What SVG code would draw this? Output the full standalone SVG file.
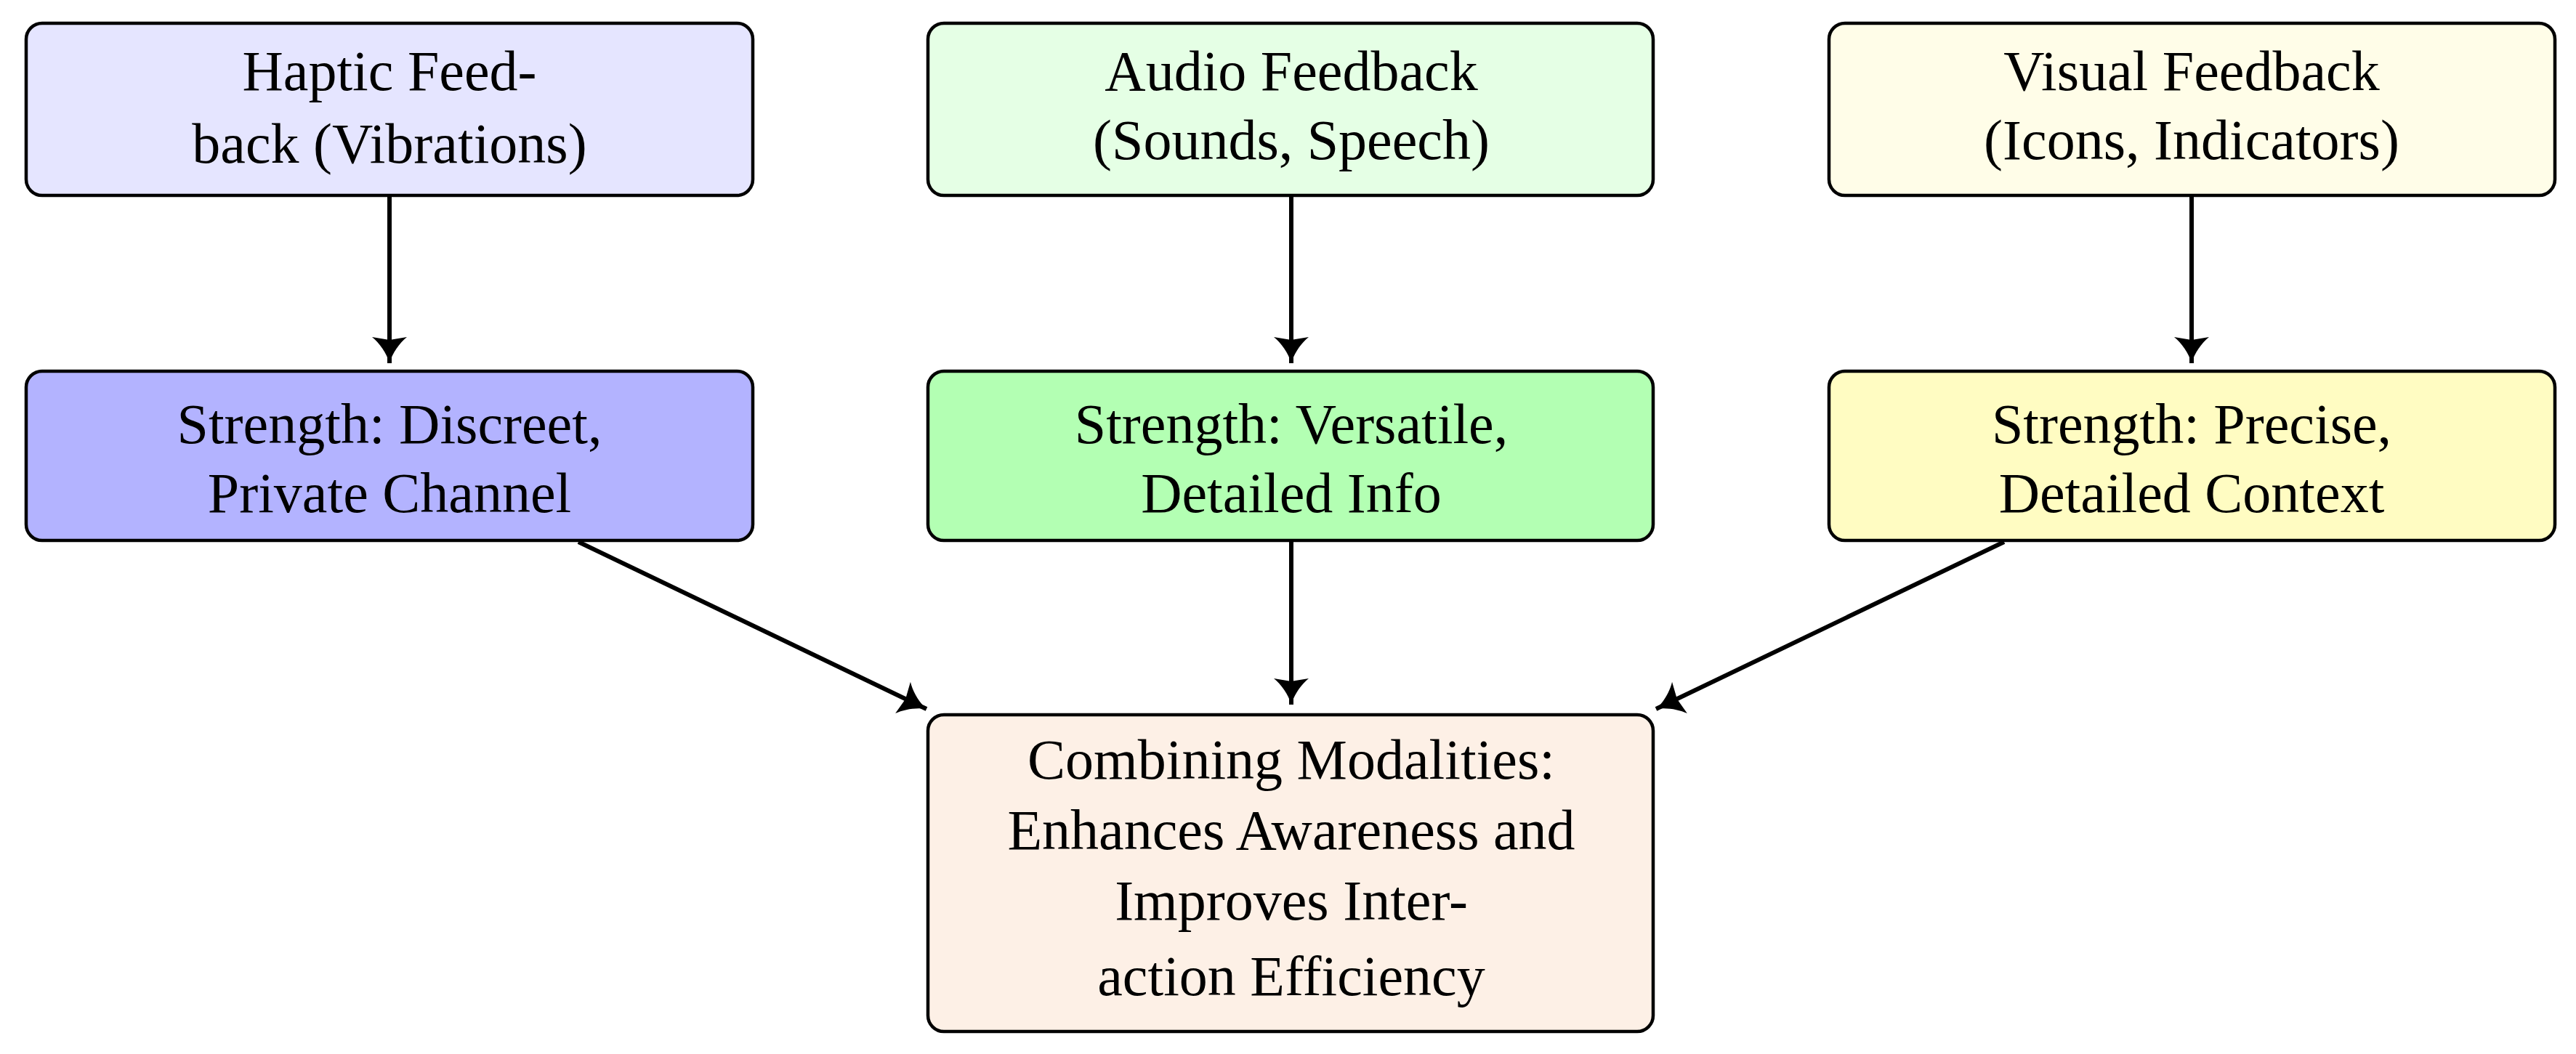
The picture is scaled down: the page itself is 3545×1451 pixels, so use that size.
<svg xmlns="http://www.w3.org/2000/svg" width="3545" height="1451" viewBox="0 0 3545 1451">
<style>
.b{stroke:#000;stroke-width:4.5}
.t{font-family:"Liberation Serif",serif;font-size:78px;text-anchor:middle;dominant-baseline:central;fill:#000}
.c{stroke:#000;stroke-width:6;fill:none;marker-end:url(#a)}
</style>
<defs>
<marker id="a" markerUnits="userSpaceOnUse" markerWidth="60" markerHeight="60" viewBox="-40 -30 50 60" refX="4" refY="0" orient="auto">
<path d="M4,0 C-10,-4 -24,-14 -32,-24 L-28,0 L-32,24 C-24,14 -10,4 4,0Z" fill="#000"/>
</marker>
</defs>
<rect width="3545" height="1451" fill="#fff"/>
<g id="connectors">
<line class="c" x1="536" y1="270" x2="536" y2="500"/>
<line class="c" x1="1777" y1="270" x2="1777" y2="500"/>
<line class="c" x1="3016" y1="270" x2="3016" y2="500"/>
<line class="c" x1="796" y1="746" x2="1275" y2="976"/>
<line class="c" x1="1777" y1="746" x2="1777" y2="970"/>
<line class="c" x1="2758" y1="746" x2="2279" y2="976"/>
</g>
<g id="haptic"><rect class="b" x="36" y="32" width="1000" height="237" rx="22" fill="#E5E5FF"/>
<text class="t" x="536" y="97">Haptic Feed-</text><text class="t" x="536" y="197">back (Vibrations)</text></g>
<g id="audio"><rect class="b" x="1277" y="32" width="998" height="237" rx="22" fill="#E5FFE5"/>
<text class="t" x="1777" y="97">Audio Feedback</text><text class="t" x="1777" y="192">(Sounds, Speech)</text></g>
<g id="visual"><rect class="b" x="2517" y="32" width="999" height="237" rx="22" fill="#FFFDE8"/>
<text class="t" x="3016" y="97">Visual Feedback</text><text class="t" x="3016" y="192">(Icons, Indicators)</text></g>
<g id="haptic-strength"><rect class="b" x="36" y="511" width="1000" height="233" rx="22" fill="#B3B3FF"/>
<text class="t" x="536" y="583">Strength: Discreet,</text><text class="t" x="536" y="678">Private Channel</text></g>
<g id="audio-strength"><rect class="b" x="1277" y="511" width="998" height="233" rx="22" fill="#B3FFB3"/>
<text class="t" x="1777" y="583">Strength: Versatile,</text><text class="t" x="1777" y="678">Detailed Info</text></g>
<g id="visual-strength"><rect class="b" x="2517" y="511" width="999" height="233" rx="22" fill="#FFFCC2"/>
<text class="t" x="3016" y="583">Strength: Precise,</text><text class="t" x="3016" y="678">Detailed Context</text></g>
<g id="combined"><rect class="b" x="1277" y="984" width="998" height="436" rx="22" fill="#FDF0E6"/>
<text class="t" x="1777" y="1045">Combining Modalities:</text>
<text class="t" x="1777" y="1142">Enhances Awareness and</text>
<text class="t" x="1777" y="1239">Improves Inter-</text>
<text class="t" x="1777" y="1343">action Efficiency</text></g>
</svg>
